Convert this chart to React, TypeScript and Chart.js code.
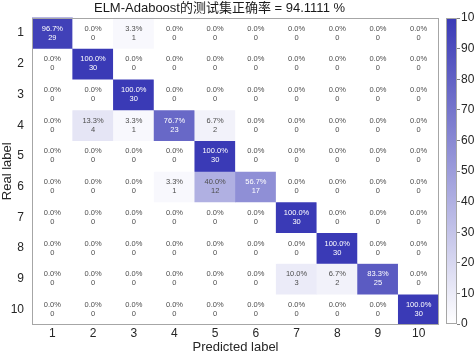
import React, { useEffect, useRef } from "react";
import { Chart, registerables } from "chart.js";

Chart.register(...registerables);

const predictedLabels = ["1", "2", "3", "4", "5", "6", "7", "8", "9", "10"];
const realLabels = ["1", "2", "3", "4", "5", "6", "7", "8", "9", "10"];

const row1 = [29, 0, 1, 0, 0, 0, 0, 0, 0, 0];
const row2 = [0, 30, 0, 0, 0, 0, 0, 0, 0, 0];
const row3 = [0, 0, 30, 0, 0, 0, 0, 0, 0, 0];
const row4 = [0, 4, 1, 23, 2, 0, 0, 0, 0, 0];
const row5 = [0, 0, 0, 0, 30, 0, 0, 0, 0, 0];
const row6 = [0, 0, 0, 1, 12, 17, 0, 0, 0, 0];
const row7 = [0, 0, 0, 0, 0, 0, 30, 0, 0, 0];
const row8 = [0, 0, 0, 0, 0, 0, 0, 30, 0, 0];
const row9 = [0, 0, 0, 0, 0, 0, 3, 2, 25, 0];
const row10 = [0, 0, 0, 0, 0, 0, 0, 0, 0, 30];
const counts = [row1, row2, row3, row4, row5, row6, row7, row8, row9, row10];

const colorbarTicks = [0, 10, 20, 30, 40, 50, 60, 70, 80, 90, 100];
const titleText = "ELM-Adaboost的测试集正确率 = 94.1111 %";

const DARK = [58, 58, 182];
const FONT = "'Liberation Sans', Arial, 'Noto Sans CJK SC', sans-serif";

function pctOf(rowIdx: number, colIdx: number) {
  const row = counts[rowIdx];
  const total = row.reduce((a, b) => a + b, 0);
  return total ? (row[colIdx] / total) * 100 : 0;
}

function colorFor(p: number) {
  const t = p / 100;
  const r = Math.round(255 - t * (255 - DARK[0]));
  const g = Math.round(255 - t * (255 - DARK[1]));
  const b = Math.round(255 - t * (255 - DARK[2]));
  return `rgb(${r},${g},${b})`;
}

const framePlugin = {
  id: "frame",
  afterDatasetsDraw(chart: any) {
    const { ctx, chartArea } = chart;
    ctx.save();
    ctx.strokeStyle = "#a6a6a6";
    ctx.lineWidth = 1;
    ctx.strokeRect(
      Math.round(chartArea.left) + 0.5,
      Math.round(chartArea.top) + 0.5,
      Math.round(chartArea.right - chartArea.left) - 1,
      Math.round(chartArea.bottom - chartArea.top) - 1
    );
    ctx.restore();
  },
};

const cellTextPlugin = {
  id: "cellText",
  afterDatasetsDraw(chart: any) {
    const { ctx } = chart;
    ctx.save();
    ctx.textAlign = "center";
    ctx.textBaseline = "middle";
    ctx.font = `7.5px ${FONT}`;
    counts.forEach((row, r) => {
      const meta = chart.getDatasetMeta(r);
      meta.data.forEach((el: any, c: number) => {
        const p = pctOf(r, c);
        const cx = el.x;
        const cy = (el.y + el.base) / 2;
        ctx.fillStyle = p > 50 ? "#ffffff" : "#4d4d4d";
        ctx.fillText(p.toFixed(1) + "%", cx, cy - 4.5);
        ctx.fillText(String(row[c]), cx, cy + 4.5);
      });
    });
    ctx.restore();
  },
};

export default function App() {
  const mainRef = useRef<HTMLCanvasElement>(null);
  const cbRef = useRef<HTMLCanvasElement>(null);

  useEffect(() => {
    const main = new Chart(mainRef.current!, {
      type: "bar",
      data: {
        labels: predictedLabels,
        datasets: counts.map((row, r) => ({
          label: realLabels[r],
          data: row.map(() => 1),
          backgroundColor: row.map((_, c) => colorFor(pctOf(r, c))),
          borderWidth: 0,
          barPercentage: 1,
          categoryPercentage: 1,
        })),
      },
      options: {
        responsive: false,
        animation: false,
        layout: { padding: { left: 0, right: 35, top: 0, bottom: 0 } },
        plugins: {
          legend: { display: false },
          tooltip: { enabled: false },
          title: {
            display: true,
            text: titleText,
            color: "#1a1a1a",
            font: { family: FONT, size: 13, weight: "normal" },
            padding: { top: 1, bottom: 1 },
          },
        },
        scales: {
          x: {
            stacked: true,
            grid: { display: false, drawTicks: false, tickLength: 0 },
            border: { display: false },
            ticks: {
              color: "#262626",
              font: { family: FONT, size: 12 },
              padding: 1,
              maxRotation: 0,
            },
            title: {
              display: true,
              text: "Predicted label",
              color: "#262626",
              font: { family: FONT, size: 13 },
              padding: 0,
            },
            afterFit(scale: any) {
              scale.height = 30;
            },
          },
          y: {
            stacked: true,
            min: 0,
            max: 10,
            reverse: true,
            grid: { display: false, drawTicks: false, tickLength: 0 },
            border: { display: false },
            afterBuildTicks(scale: any) {
              scale.ticks = realLabels.map((_, i) => ({ value: i + 0.5 }));
            },
            ticks: {
              color: "#262626",
              font: { family: FONT, size: 12 },
              padding: 8,
              callback: (v: any) => realLabels[Math.round(Number(v) - 0.5)],
            },
            title: {
              display: true,
              text: "Real label",
              color: "#262626",
              font: { family: FONT, size: 13 },
              padding: 0,
            },
            afterFit(scale: any) {
              scale.width = 32;
            },
          },
        },
      },
      plugins: [framePlugin, cellTextPlugin],
    } as any);

    const cb = new Chart(cbRef.current!, {
      type: "bar",
      data: {
        labels: [""],
        datasets: [
          {
            data: [100],
            borderWidth: 0,
            barPercentage: 1,
            categoryPercentage: 1,
            backgroundColor: (ctx: any) => {
              const area = ctx.chart.chartArea;
              if (!area) return colorFor(50);
              const g = ctx.chart.ctx.createLinearGradient(0, area.bottom, 0, area.top);
              g.addColorStop(0, colorFor(0));
              g.addColorStop(1, colorFor(100));
              return g;
            },
          },
        ],
      },
      options: {
        responsive: false,
        animation: false,
        layout: { padding: { left: 6, right: 0, top: 18, bottom: 31 } },
        plugins: { legend: { display: false }, tooltip: { enabled: false } },
        scales: {
          x: { display: false },
          y: {
            position: "right",
            min: 0,
            max: 100,
            grid: { drawOnChartArea: false, tickLength: 3, color: "#808080" },
            border: { display: false },
            afterBuildTicks(scale: any) {
              scale.ticks = colorbarTicks.map((v) => ({ value: v }));
            },
            ticks: {
              color: "#262626",
              font: { family: FONT, size: 12 },
              padding: 1,
            },
            afterFit(scale: any) {
              scale.width = 17;
            },
          },
        },
      },
      plugins: [framePlugin],
    } as any);

    return () => {
      main.destroy();
      cb.destroy();
    };
  }, []);

  return (
    <div style={{ position: "absolute", left: 0, top: 0, width: 474, height: 355, background: "#fff", overflow: "hidden" }}>
      <canvas ref={mainRef} width={474} height={355} style={{ position: "absolute", left: 0, top: 0 }} />
      <canvas ref={cbRef} width={34} height={355} style={{ position: "absolute", left: 440, top: 0 }} />
    </div>
  );
}
